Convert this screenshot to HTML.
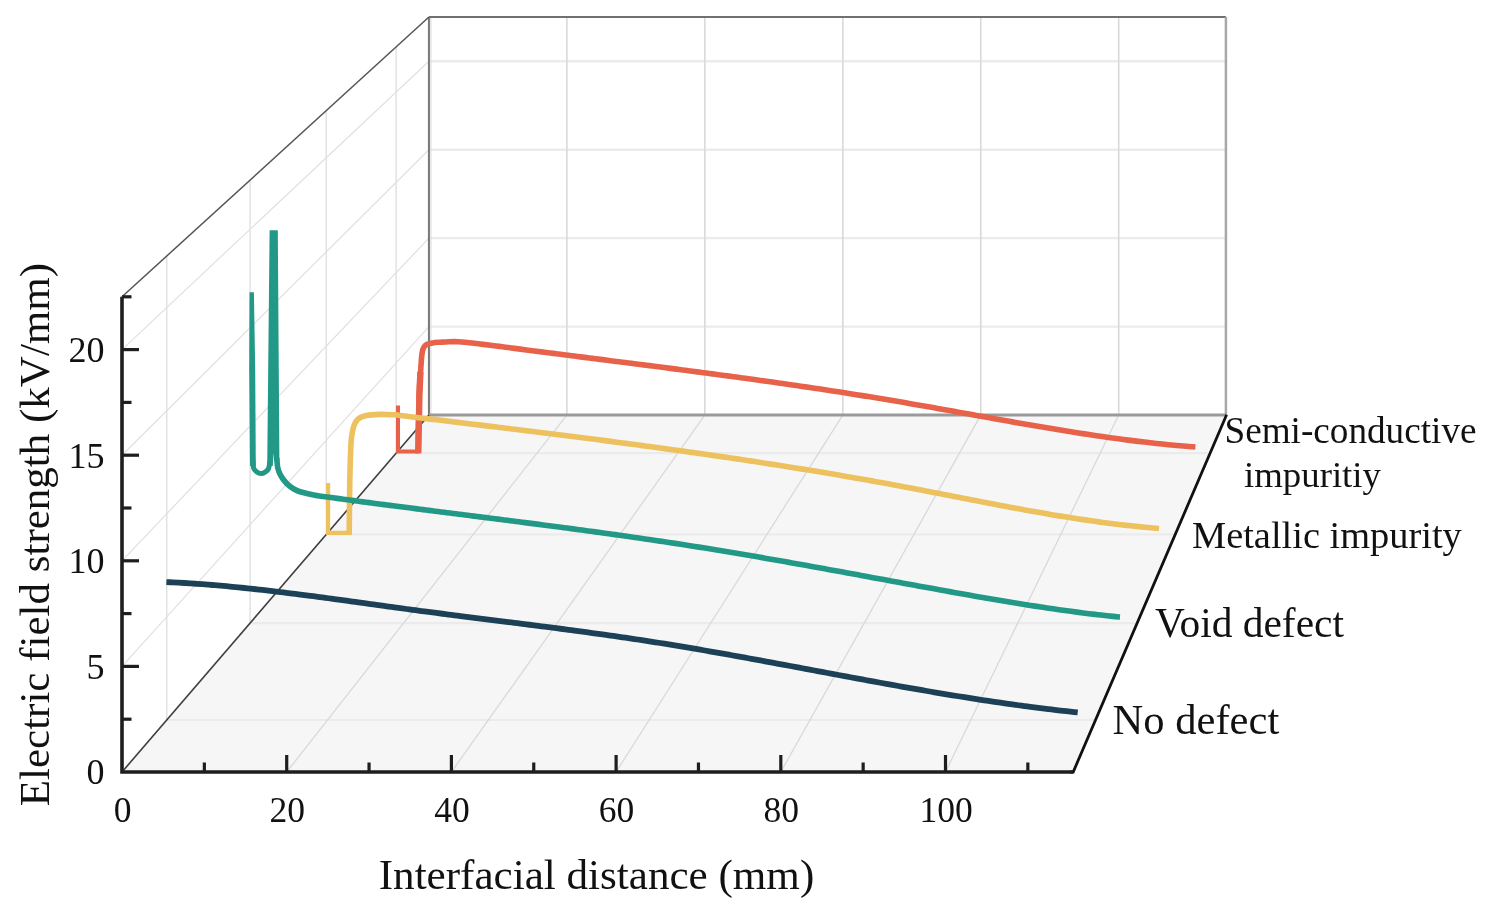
<!DOCTYPE html>
<html><head><meta charset="utf-8"><title>Electric field strength vs interfacial distance</title>
<style>html,body{margin:0;padding:0;background:#fff;}svg{display:block;}</style></head>
<body>
<svg width="1488" height="915" viewBox="0 0 1488 915">
<polygon points="122,772 1073.5,772 1225.91,415.06 428.93,415.06" fill="#f6f6f6"/>
<line x1="428.93" y1="326.6" x2="1225.91" y2="326.6" stroke="#ebebeb" stroke-width="2.4"/>
<line x1="428.93" y1="238.15" x2="1225.91" y2="238.15" stroke="#ebebeb" stroke-width="2.4"/>
<line x1="428.93" y1="149.7" x2="1225.91" y2="149.7" stroke="#ebebeb" stroke-width="2.4"/>
<line x1="428.93" y1="61.25" x2="1225.91" y2="61.25" stroke="#ebebeb" stroke-width="2.4"/>
<line x1="566.88" y1="415.06" x2="566.88" y2="17.03" stroke="#d9d9d9" stroke-width="1.6"/>
<line x1="704.83" y1="415.06" x2="704.83" y2="17.03" stroke="#d9d9d9" stroke-width="1.6"/>
<line x1="842.79" y1="415.06" x2="842.79" y2="17.03" stroke="#d9d9d9" stroke-width="1.6"/>
<line x1="980.74" y1="415.06" x2="980.74" y2="17.03" stroke="#d9d9d9" stroke-width="1.6"/>
<line x1="1118.69" y1="415.06" x2="1118.69" y2="17.03" stroke="#d9d9d9" stroke-width="1.6"/>
<line x1="166.72" y1="719.99" x2="166.72" y2="256.04" stroke="#e2e2e2" stroke-width="1.5"/>
<line x1="250.1" y1="623.03" x2="250.1" y2="180.03" stroke="#e2e2e2" stroke-width="1.5"/>
<line x1="326.27" y1="534.44" x2="326.27" y2="110.6" stroke="#e2e2e2" stroke-width="1.5"/>
<line x1="396.13" y1="453.2" x2="396.13" y2="46.93" stroke="#e2e2e2" stroke-width="1.5"/>
<line x1="122" y1="666.4" x2="428.93" y2="326.6" stroke="#e0e0e0" stroke-width="1.2"/>
<line x1="122" y1="560.8" x2="428.93" y2="238.15" stroke="#e0e0e0" stroke-width="1.2"/>
<line x1="122" y1="455.2" x2="428.93" y2="149.7" stroke="#e0e0e0" stroke-width="1.2"/>
<line x1="122" y1="349.6" x2="428.93" y2="61.25" stroke="#e0e0e0" stroke-width="1.2"/>
<line x1="166.72" y1="719.99" x2="1095.71" y2="719.99" stroke="#ebebeb" stroke-width="2.2"/>
<line x1="250.1" y1="623.03" x2="1137.11" y2="623.03" stroke="#ebebeb" stroke-width="2.2"/>
<line x1="326.27" y1="534.44" x2="1174.93" y2="534.44" stroke="#ebebeb" stroke-width="2.2"/>
<line x1="396.13" y1="453.2" x2="1209.62" y2="453.2" stroke="#ebebeb" stroke-width="2.2"/>
<line x1="286.7" y1="772" x2="566.88" y2="415.06" stroke="#d9d9d9" stroke-width="1.3"/>
<line x1="451.4" y1="772" x2="704.83" y2="415.06" stroke="#d9d9d9" stroke-width="1.3"/>
<line x1="616.1" y1="772" x2="842.79" y2="415.06" stroke="#d9d9d9" stroke-width="1.3"/>
<line x1="780.8" y1="772" x2="980.74" y2="415.06" stroke="#d9d9d9" stroke-width="1.3"/>
<line x1="945.5" y1="772" x2="1118.69" y2="415.06" stroke="#d9d9d9" stroke-width="1.3"/>
<line x1="428.93" y1="17.03" x2="1225.91" y2="17.03" stroke="#707070" stroke-width="2"/>
<line x1="428.93" y1="415.06" x2="428.93" y2="17.03" stroke="#777" stroke-width="2"/>
<line x1="430.9" y1="18" x2="430.9" y2="414" stroke="#dadada" stroke-width="1.1"/>
<line x1="1225.91" y1="415.06" x2="1225.91" y2="17.03" stroke="#a8a8a8" stroke-width="2.5"/>
<line x1="428.93" y1="415.06" x2="1225.91" y2="415.06" stroke="#9a9a9a" stroke-width="3"/>
<line x1="122" y1="296.8" x2="428.93" y2="17.03" stroke="#555" stroke-width="1.5"/>
<line x1="122" y1="772" x2="428.93" y2="415.06" stroke="#3e3e3e" stroke-width="1.6"/>
<path d="M398,405.5 L398,451.4 L418.5,451.4" fill="none" stroke="#e8624a" stroke-width="4.0"/>
<path d="M418.1,453.5 C418.18,447.92 418.35,431.42 418.6,420 C418.85,408.58 419.25,393.33 419.6,385 C419.95,376.67 420.37,374.67 420.7,370 C421.03,365.33 421.3,360.17 421.6,357 C421.9,353.83 422.1,352.67 422.5,351 C422.9,349.33 423.25,348.12 424,347 C424.75,345.88 425.58,344.98 427,344.3 C428.42,343.62 430.23,343.25 432.5,342.9 C434.77,342.55 437.85,342.4 440.6,342.2 C443.35,342 446.1,341.78 449,341.7 C451.9,341.62 454.67,341.53 458,341.7 C461.33,341.87 465.33,342.32 469,342.7 C472.67,343.08 476.43,343.58 480,344 C483.57,344.42 487.67,344.87 490.4,345.21 C493.13,345.54 494.4,345.74 496.4,346 C498.4,346.26 500.4,346.53 502.4,346.79 C504.4,347.05 506.4,347.32 508.4,347.58 C510.4,347.84 512.4,348.1 514.4,348.36 C516.4,348.62 518.4,348.88 520.4,349.14 C522.4,349.4 524.4,349.66 526.4,349.92 C528.4,350.18 530.4,350.44 532.4,350.7 C534.4,350.96 536.4,351.22 538.4,351.47 C540.4,351.73 542.4,351.99 544.4,352.25 C546.4,352.5 548.4,352.76 550.4,353.02 C552.4,353.27 554.4,353.53 556.4,353.78 C558.4,354.04 560.4,354.3 562.4,354.55 C564.4,354.81 566.4,355.06 568.4,355.32 C570.4,355.57 572.4,355.83 574.4,356.08 C576.4,356.34 578.4,356.59 580.4,356.85 C582.4,357.1 584.4,357.35 586.4,357.61 C588.4,357.86 590.4,358.12 592.4,358.37 C594.4,358.63 596.4,358.88 598.4,359.14 C600.4,359.39 602.4,359.64 604.4,359.9 C606.4,360.15 608.4,360.41 610.4,360.66 C612.4,360.92 614.4,361.17 616.4,361.42 C618.4,361.68 620.4,361.93 622.4,362.19 C624.4,362.44 626.4,362.7 628.4,362.95 C630.4,363.21 632.4,363.46 634.4,363.72 C636.4,363.97 638.4,364.23 640.4,364.49 C642.4,364.74 644.4,365 646.4,365.25 C648.4,365.51 650.4,365.77 652.4,366.03 C654.4,366.28 656.4,366.54 658.4,366.8 C660.4,367.05 662.4,367.31 664.4,367.57 C666.4,367.83 668.4,368.09 670.4,368.35 C672.4,368.61 674.4,368.87 676.4,369.13 C678.4,369.39 680.4,369.65 682.4,369.91 C684.4,370.17 686.4,370.43 688.4,370.69 C690.4,370.96 692.4,371.22 694.4,371.48 C696.4,371.74 698.4,372.01 700.4,372.27 C702.4,372.54 704.4,372.8 706.4,373.07 C708.4,373.33 710.4,373.6 712.4,373.86 C714.4,374.13 716.4,374.4 718.4,374.67 C720.4,374.93 722.4,375.2 724.4,375.47 C726.4,375.74 728.4,376.01 730.4,376.28 C732.4,376.55 734.4,376.83 736.4,377.1 C738.4,377.37 740.4,377.64 742.4,377.92 C744.4,378.19 746.4,378.47 748.4,378.74 C750.4,379.02 752.4,379.3 754.4,379.57 C756.4,379.85 758.4,380.13 760.4,380.41 C762.4,380.69 764.4,380.97 766.4,381.25 C768.4,381.53 770.4,381.81 772.4,382.1 C774.4,382.38 776.4,382.66 778.4,382.95 C780.4,383.23 782.4,383.52 784.4,383.81 C786.4,384.1 788.4,384.38 790.4,384.67 C792.4,384.96 794.4,385.25 796.4,385.55 C798.4,385.84 800.4,386.13 802.4,386.42 C804.4,386.72 806.4,387.01 808.4,387.31 C810.4,387.61 812.4,387.9 814.4,388.2 C816.4,388.5 818.4,388.8 820.4,389.1 C822.4,389.4 824.4,389.71 826.4,390.01 C828.4,390.32 830.4,390.62 832.4,390.93 C834.4,391.23 836.4,391.54 838.4,391.85 C840.4,392.16 842.4,392.47 844.4,392.78 C846.4,393.1 848.4,393.41 850.4,393.72 C852.4,394.04 854.4,394.36 856.4,394.67 C858.4,394.99 860.4,395.31 862.4,395.63 C864.4,395.95 866.4,396.28 868.4,396.6 C870.4,396.92 872.4,397.25 874.4,397.58 C876.4,397.9 878.4,398.23 880.4,398.56 C882.4,398.89 884.4,399.22 886.4,399.56 C888.4,399.89 890.4,400.23 892.4,400.56 C894.4,400.9 896.4,401.24 898.4,401.58 C900.4,401.92 902.4,402.26 904.4,402.61 C906.4,402.95 908.4,403.29 910.4,403.64 C912.4,403.99 914.4,404.34 916.4,404.69 C918.4,405.04 920.4,405.39 922.4,405.74 C924.4,406.09 926.4,406.44 928.4,406.8 C930.4,407.15 932.4,407.51 934.4,407.86 C936.4,408.22 938.4,408.58 940.4,408.94 C942.4,409.29 944.4,409.65 946.4,410.01 C948.4,410.37 950.4,410.73 952.4,411.09 C954.4,411.45 956.4,411.81 958.4,412.17 C960.4,412.53 962.4,412.89 964.4,413.25 C966.4,413.62 968.4,413.98 970.4,414.34 C972.4,414.7 974.4,415.06 976.4,415.42 C978.4,415.78 980.4,416.14 982.4,416.5 C984.4,416.86 986.4,417.23 988.4,417.59 C990.4,417.94 992.4,418.3 994.4,418.66 C996.4,419.02 998.4,419.38 1000.4,419.74 C1002.4,420.09 1004.4,420.45 1006.4,420.81 C1008.4,421.16 1010.4,421.52 1012.4,421.87 C1014.4,422.22 1016.4,422.58 1018.4,422.93 C1020.4,423.28 1022.4,423.63 1024.4,423.98 C1026.4,424.33 1028.4,424.68 1030.4,425.02 C1032.4,425.37 1034.4,425.71 1036.4,426.06 C1038.4,426.4 1040.4,426.74 1042.4,427.08 C1044.4,427.42 1046.4,427.76 1048.4,428.09 C1050.4,428.43 1052.4,428.76 1054.4,429.09 C1056.4,429.42 1058.4,429.75 1060.4,430.08 C1062.4,430.41 1064.4,430.73 1066.4,431.05 C1068.4,431.38 1070.4,431.7 1072.4,432.01 C1074.4,432.33 1076.4,432.65 1078.4,432.96 C1080.4,433.27 1082.4,433.58 1084.4,433.89 C1086.4,434.19 1088.4,434.5 1090.4,434.8 C1092.4,435.1 1094.4,435.4 1096.4,435.69 C1098.4,435.99 1100.4,436.28 1102.4,436.57 C1104.4,436.85 1106.4,437.14 1108.4,437.42 C1110.4,437.7 1112.4,437.98 1114.4,438.25 C1116.4,438.53 1118.4,438.8 1120.4,439.07 C1122.4,439.33 1124.4,439.6 1126.4,439.86 C1128.4,440.12 1130.4,440.37 1132.4,440.62 C1134.4,440.87 1136.4,441.12 1138.4,441.36 C1140.4,441.61 1142.4,441.85 1144.4,442.08 C1146.4,442.32 1148.4,442.55 1150.4,442.77 C1152.4,443 1154.4,443.22 1156.4,443.44 C1158.4,443.65 1160.4,443.86 1162.4,444.07 C1164.4,444.28 1166.4,444.48 1168.4,444.68 C1170.4,444.88 1172.4,445.07 1174.4,445.26 C1176.4,445.44 1178.4,445.63 1180.4,445.8 C1182.4,445.98 1184.4,446.15 1186.4,446.32 C1188.4,446.48 1190.9,446.68 1192.4,446.8 C1193.9,446.92 1194.9,446.99 1195.4,447.03" fill="none" stroke="#e8624a" stroke-width="5.6" stroke-linejoin="round"/>
<path d="M418.3,453 L419.4,395 L420.4,372" fill="none" stroke="#e8624a" stroke-width="6.4" stroke-linejoin="round"/>
<path d="M328.1,483 L328.1,532.9 L349.5,532.9" fill="none" stroke="#ecc15e" stroke-width="4.2"/>
<path d="M349.2,535 C349.3,525.83 349.52,495 349.8,480 C350.08,465 350.57,452.4 350.9,445 C351.23,437.6 351.38,438.52 351.8,435.6 C352.22,432.68 352.78,429.72 353.4,427.5 C354.02,425.28 354.53,423.87 355.5,422.3 C356.47,420.73 357.42,419.23 359.2,418.1 C360.98,416.97 362.83,416.12 366.2,415.5 C369.57,414.88 374.65,414.52 379.4,414.4 C384.15,414.28 391.15,414.58 394.7,414.76 C398.25,414.94 398.7,415.24 400.7,415.48 C402.7,415.73 404.7,415.97 406.7,416.21 C408.7,416.45 410.7,416.69 412.7,416.93 C414.7,417.17 416.7,417.41 418.7,417.66 C420.7,417.9 422.7,418.14 424.7,418.38 C426.7,418.62 428.7,418.86 430.7,419.1 C432.7,419.34 434.7,419.58 436.7,419.82 C438.7,420.07 440.7,420.31 442.7,420.55 C444.7,420.79 446.7,421.03 448.7,421.27 C450.7,421.51 452.7,421.75 454.7,422 C456.7,422.24 458.7,422.48 460.7,422.72 C462.7,422.96 464.7,423.2 466.7,423.45 C468.7,423.69 470.7,423.93 472.7,424.17 C474.7,424.41 476.7,424.66 478.7,424.9 C480.7,425.14 482.7,425.38 484.7,425.63 C486.7,425.87 488.7,426.11 490.7,426.36 C492.7,426.6 494.7,426.84 496.7,427.09 C498.7,427.33 500.7,427.58 502.7,427.82 C504.7,428.06 506.7,428.31 508.7,428.55 C510.7,428.8 512.7,429.04 514.7,429.29 C516.7,429.53 518.7,429.78 520.7,430.03 C522.7,430.27 524.7,430.52 526.7,430.77 C528.7,431.01 530.7,431.26 532.7,431.51 C534.7,431.75 536.7,432 538.7,432.25 C540.7,432.5 542.7,432.75 544.7,433 C546.7,433.25 548.7,433.5 550.7,433.75 C552.7,434 554.7,434.25 556.7,434.5 C558.7,434.75 560.7,435 562.7,435.25 C564.7,435.5 566.7,435.75 568.7,436.01 C570.7,436.26 572.7,436.51 574.7,436.77 C576.7,437.02 578.7,437.27 580.7,437.53 C582.7,437.78 584.7,438.04 586.7,438.3 C588.7,438.55 590.7,438.81 592.7,439.07 C594.7,439.32 596.7,439.58 598.7,439.84 C600.7,440.1 602.7,440.36 604.7,440.61 C606.7,440.87 608.7,441.13 610.7,441.4 C612.7,441.66 614.7,441.92 616.7,442.18 C618.7,442.44 620.7,442.7 622.7,442.97 C624.7,443.23 626.7,443.5 628.7,443.76 C630.7,444.03 632.7,444.29 634.7,444.56 C636.7,444.82 638.7,445.09 640.7,445.36 C642.7,445.63 644.7,445.9 646.7,446.16 C648.7,446.43 650.7,446.7 652.7,446.97 C654.7,447.25 656.7,447.52 658.7,447.79 C660.7,448.06 662.7,448.34 664.7,448.61 C666.7,448.88 668.7,449.16 670.7,449.44 C672.7,449.71 674.7,449.99 676.7,450.27 C678.7,450.54 680.7,450.82 682.7,451.1 C684.7,451.38 686.7,451.66 688.7,451.94 C690.7,452.22 692.7,452.51 694.7,452.79 C696.7,453.07 698.7,453.36 700.7,453.64 C702.7,453.93 704.7,454.21 706.7,454.5 C708.7,454.79 710.7,455.08 712.7,455.36 C714.7,455.65 716.7,455.94 718.7,456.23 C720.7,456.53 722.7,456.82 724.7,457.11 C726.7,457.4 728.7,457.7 730.7,457.99 C732.7,458.29 734.7,458.59 736.7,458.88 C738.7,459.18 740.7,459.48 742.7,459.78 C744.7,460.08 746.7,460.38 748.7,460.68 C750.7,460.98 752.7,461.29 754.7,461.59 C756.7,461.9 758.7,462.2 760.7,462.51 C762.7,462.81 764.7,463.12 766.7,463.43 C768.7,463.74 770.7,464.05 772.7,464.36 C774.7,464.67 776.7,464.99 778.7,465.3 C780.7,465.61 782.7,465.93 784.7,466.25 C786.7,466.56 788.7,466.88 790.7,467.2 C792.7,467.52 794.7,467.84 796.7,468.16 C798.7,468.48 800.7,468.8 802.7,469.13 C804.7,469.45 806.7,469.78 808.7,470.11 C810.7,470.43 812.7,470.76 814.7,471.09 C816.7,471.42 818.7,471.75 820.7,472.08 C822.7,472.42 824.7,472.75 826.7,473.09 C828.7,473.42 830.7,473.76 832.7,474.1 C834.7,474.43 836.7,474.77 838.7,475.11 C840.7,475.46 842.7,475.8 844.7,476.14 C846.7,476.49 848.7,476.83 850.7,477.18 C852.7,477.53 854.7,477.87 856.7,478.22 C858.7,478.57 860.7,478.93 862.7,479.28 C864.7,479.63 866.7,479.99 868.7,480.34 C870.7,480.7 872.7,481.06 874.7,481.42 C876.7,481.78 878.7,482.14 880.7,482.5 C882.7,482.86 884.7,483.23 886.7,483.59 C888.7,483.96 890.7,484.33 892.7,484.69 C894.7,485.06 896.7,485.43 898.7,485.81 C900.7,486.18 902.7,486.55 904.7,486.93 C906.7,487.3 908.7,487.68 910.7,488.06 C912.7,488.44 914.7,488.82 916.7,489.2 C918.7,489.58 920.7,489.97 922.7,490.35 C924.7,490.74 926.7,491.12 928.7,491.51 C930.7,491.89 932.7,492.28 934.7,492.67 C936.7,493.06 938.7,493.45 940.7,493.83 C942.7,494.22 944.7,494.61 946.7,495 C948.7,495.39 950.7,495.78 952.7,496.17 C954.7,496.56 956.7,496.95 958.7,497.34 C960.7,497.73 962.7,498.12 964.7,498.51 C966.7,498.9 968.7,499.29 970.7,499.68 C972.7,500.07 974.7,500.46 976.7,500.85 C978.7,501.23 980.7,501.62 982.7,502.01 C984.7,502.39 986.7,502.78 988.7,503.16 C990.7,503.54 992.7,503.93 994.7,504.31 C996.7,504.69 998.7,505.07 1000.7,505.45 C1002.7,505.83 1004.7,506.2 1006.7,506.58 C1008.7,506.95 1010.7,507.33 1012.7,507.7 C1014.7,508.07 1016.7,508.44 1018.7,508.81 C1020.7,509.17 1022.7,509.54 1024.7,509.9 C1026.7,510.26 1028.7,510.62 1030.7,510.98 C1032.7,511.34 1034.7,511.7 1036.7,512.05 C1038.7,512.4 1040.7,512.75 1042.7,513.1 C1044.7,513.44 1046.7,513.79 1048.7,514.13 C1050.7,514.47 1052.7,514.81 1054.7,515.14 C1056.7,515.47 1058.7,515.8 1060.7,516.13 C1062.7,516.46 1064.7,516.78 1066.7,517.1 C1068.7,517.42 1070.7,517.74 1072.7,518.05 C1074.7,518.36 1076.7,518.67 1078.7,518.97 C1080.7,519.28 1082.7,519.58 1084.7,519.87 C1086.7,520.17 1088.7,520.46 1090.7,520.74 C1092.7,521.03 1094.7,521.31 1096.7,521.59 C1098.7,521.86 1100.7,522.14 1102.7,522.4 C1104.7,522.67 1106.7,522.93 1108.7,523.19 C1110.7,523.45 1112.7,523.7 1114.7,523.94 C1116.7,524.19 1118.7,524.43 1120.7,524.67 C1122.7,524.9 1124.7,525.13 1126.7,525.35 C1128.7,525.58 1130.7,525.79 1132.7,526.01 C1134.7,526.22 1136.7,526.42 1138.7,526.62 C1140.7,526.82 1142.7,527.02 1144.7,527.2 C1146.7,527.39 1148.7,527.57 1150.7,527.74 C1152.7,527.92 1155.32,528.13 1156.7,528.25 C1158.08,528.36 1158.62,528.4 1159,528.43" fill="none" stroke="#ecc15e" stroke-width="5.6" stroke-linejoin="round"/>
<polygon points="249.5,292.3 253.9,292.3 255.2,370 255.8,466 250,466 249.2,370" fill="#229886"/>
<path d="M252.9,460 C253.02,461.33 253,466.03 253.6,468 C254.2,469.97 255.27,470.87 256.5,471.8 C257.73,472.73 259.5,473.6 261,473.6 C262.5,473.6 264.23,472.65 265.5,471.8 C266.77,470.95 267.87,470.3 268.6,468.5 C269.33,466.7 269.68,462.25 269.9,461" fill="none" stroke="#229886" stroke-width="5.0" stroke-linejoin="round"/>
<polygon points="269.6,230.3 277.8,230.3 279.4,461 274.1,461 273.4,453 272.8,466 267.2,466" fill="#229886"/>
<path d="M276.7,458 C276.88,459.67 277.22,465.25 277.8,468 C278.38,470.75 279.33,472.67 280.2,474.5 C281.07,476.33 281.95,477.55 283,479 C284.05,480.45 285.25,481.9 286.5,483.2 C287.75,484.5 289,485.68 290.5,486.8 C292,487.92 293.58,488.98 295.5,489.9 C297.42,490.82 298.75,491.4 302,492.3 C305.25,493.2 311.83,494.69 315,495.33 C318.17,495.97 319,495.89 321,496.16 C323,496.44 325,496.72 327,496.99 C329,497.27 331,497.54 333,497.81 C335,498.09 337,498.36 339,498.63 C341,498.9 343,499.17 345,499.44 C347,499.71 349,499.98 351,500.25 C353,500.52 355,500.78 357,501.05 C359,501.32 361,501.58 363,501.85 C365,502.11 367,502.38 369,502.64 C371,502.9 373,503.17 375,503.43 C377,503.69 379,503.95 381,504.22 C383,504.48 385,504.74 387,505 C389,505.26 391,505.52 393,505.78 C395,506.03 397,506.29 399,506.55 C401,506.81 403,507.07 405,507.32 C407,507.58 409,507.84 411,508.09 C413,508.35 415,508.61 417,508.86 C419,509.12 421,509.37 423,509.63 C425,509.88 427,510.14 429,510.39 C431,510.65 433,510.9 435,511.16 C437,511.41 439,511.67 441,511.92 C443,512.17 445,512.43 447,512.68 C449,512.93 451,513.19 453,513.44 C455,513.69 457,513.95 459,514.2 C461,514.45 463,514.71 465,514.96 C467,515.21 469,515.47 471,515.72 C473,515.97 475,516.23 477,516.48 C479,516.73 481,516.99 483,517.24 C485,517.49 487,517.75 489,518 C491,518.26 493,518.51 495,518.76 C497,519.02 499,519.27 501,519.53 C503,519.78 505,520.04 507,520.29 C509,520.55 511,520.8 513,521.06 C515,521.32 517,521.57 519,521.83 C521,522.09 523,522.34 525,522.6 C527,522.86 529,523.12 531,523.37 C533,523.63 535,523.89 537,524.15 C539,524.41 541,524.67 543,524.93 C545,525.19 547,525.45 549,525.72 C551,525.98 553,526.24 555,526.5 C557,526.77 559,527.03 561,527.29 C563,527.56 565,527.82 567,528.09 C569,528.35 571,528.62 573,528.89 C575,529.15 577,529.42 579,529.69 C581,529.96 583,530.23 585,530.5 C587,530.77 589,531.04 591,531.31 C593,531.59 595,531.86 597,532.13 C599,532.41 601,532.68 603,532.96 C605,533.23 607,533.51 609,533.79 C611,534.07 613,534.35 615,534.63 C617,534.91 619,535.19 621,535.47 C623,535.75 625,536.03 627,536.32 C629,536.6 631,536.89 633,537.17 C635,537.46 637,537.75 639,538.04 C641,538.33 643,538.62 645,538.91 C647,539.2 649,539.49 651,539.79 C653,540.08 655,540.38 657,540.67 C659,540.97 661,541.27 663,541.57 C665,541.87 667,542.17 669,542.47 C671,542.78 673,543.08 675,543.38 C677,543.69 679,544 681,544.31 C683,544.61 685,544.92 687,545.24 C689,545.55 691,545.86 693,546.17 C695,546.49 697,546.81 699,547.12 C701,547.44 703,547.76 705,548.08 C707,548.4 709,548.73 711,549.05 C713,549.37 715,549.7 717,550.03 C719,550.36 721,550.68 723,551.01 C725,551.34 727,551.68 729,552.01 C731,552.34 733,552.68 735,553.01 C737,553.35 739,553.69 741,554.03 C743,554.36 745,554.7 747,555.04 C749,555.39 751,555.73 753,556.07 C755,556.41 757,556.76 759,557.1 C761,557.45 763,557.8 765,558.15 C767,558.49 769,558.84 771,559.19 C773,559.54 775,559.89 777,560.24 C779,560.6 781,560.95 783,561.3 C785,561.66 787,562.01 789,562.37 C791,562.72 793,563.08 795,563.43 C797,563.79 799,564.15 801,564.51 C803,564.87 805,565.23 807,565.59 C809,565.95 811,566.31 813,566.67 C815,567.03 817,567.39 819,567.75 C821,568.11 823,568.48 825,568.84 C827,569.2 829,569.57 831,569.93 C833,570.3 835,570.66 837,571.03 C839,571.39 841,571.76 843,572.12 C845,572.49 847,572.85 849,573.22 C851,573.59 853,573.95 855,574.32 C857,574.69 859,575.05 861,575.42 C863,575.79 865,576.16 867,576.52 C869,576.89 871,577.26 873,577.63 C875,578 877,578.36 879,578.73 C881,579.1 883,579.47 885,579.83 C887,580.2 889,580.57 891,580.94 C893,581.3 895,581.67 897,582.04 C899,582.41 901,582.77 903,583.14 C905,583.51 907,583.87 909,584.24 C911,584.61 913,584.97 915,585.34 C917,585.7 919,586.07 921,586.43 C923,586.8 925,587.16 927,587.53 C929,587.89 931,588.25 933,588.62 C935,588.98 937,589.34 939,589.71 C941,590.07 943,590.43 945,590.79 C947,591.15 949,591.51 951,591.87 C953,592.23 955,592.59 957,592.95 C959,593.31 961,593.66 963,594.02 C965,594.38 967,594.73 969,595.08 C971,595.44 973,595.79 975,596.14 C977,596.49 979,596.84 981,597.19 C983,597.54 985,597.89 987,598.23 C989,598.58 991,598.92 993,599.27 C995,599.61 997,599.95 999,600.29 C1001,600.63 1003,600.96 1005,601.3 C1007,601.63 1009,601.96 1011,602.29 C1013,602.62 1015,602.95 1017,603.28 C1019,603.6 1021,603.92 1023,604.24 C1025,604.56 1027,604.88 1029,605.2 C1031,605.51 1033,605.82 1035,606.13 C1037,606.44 1039,606.75 1041,607.05 C1043,607.35 1045,607.66 1047,607.95 C1049,608.25 1051,608.54 1053,608.83 C1055,609.12 1057,609.41 1059,609.69 C1061,609.98 1063,610.26 1065,610.53 C1067,610.81 1069,611.08 1071,611.35 C1073,611.62 1075,611.88 1077,612.14 C1079,612.41 1081,612.66 1083,612.91 C1085,613.17 1087,613.42 1089,613.66 C1091,613.9 1093,614.14 1095,614.38 C1097,614.61 1099,614.84 1101,615.07 C1103,615.3 1105,615.52 1107,615.73 C1109,615.95 1111,616.16 1113,616.37 C1115,616.58 1117.83,616.86 1119,616.98 C1120.17,617.09 1119.83,617.06 1120,617.07" fill="none" stroke="#229886" stroke-width="5.6" stroke-linejoin="round"/>
<path d="M166.4,582.08 C167.4,582.12 170.4,582.26 172.4,582.36 C174.4,582.45 176.4,582.56 178.4,582.67 C180.4,582.78 182.4,582.89 184.4,583.01 C186.4,583.13 188.4,583.25 190.4,583.38 C192.4,583.51 194.4,583.65 196.4,583.79 C198.4,583.93 200.4,584.07 202.4,584.22 C204.4,584.37 206.4,584.53 208.4,584.69 C210.4,584.84 212.4,585.01 214.4,585.17 C216.4,585.34 218.4,585.51 220.4,585.69 C222.4,585.87 224.4,586.05 226.4,586.23 C228.4,586.41 230.4,586.6 232.4,586.79 C234.4,586.99 236.4,587.18 238.4,587.38 C240.4,587.58 242.4,587.78 244.4,587.99 C246.4,588.2 248.4,588.41 250.4,588.62 C252.4,588.83 254.4,589.05 256.4,589.27 C258.4,589.49 260.4,589.71 262.4,589.94 C264.4,590.17 266.4,590.39 268.4,590.63 C270.4,590.86 272.4,591.09 274.4,591.33 C276.4,591.57 278.4,591.81 280.4,592.05 C282.4,592.29 284.4,592.54 286.4,592.78 C288.4,593.03 290.4,593.28 292.4,593.53 C294.4,593.78 296.4,594.04 298.4,594.29 C300.4,594.55 302.4,594.81 304.4,595.07 C306.4,595.32 308.4,595.59 310.4,595.85 C312.4,596.11 314.4,596.38 316.4,596.64 C318.4,596.91 320.4,597.17 322.4,597.44 C324.4,597.71 326.4,597.98 328.4,598.25 C330.4,598.52 332.4,598.8 334.4,599.07 C336.4,599.34 338.4,599.61 340.4,599.89 C342.4,600.16 344.4,600.44 346.4,600.72 C348.4,600.99 350.4,601.27 352.4,601.54 C354.4,601.82 356.4,602.1 358.4,602.38 C360.4,602.65 362.4,602.93 364.4,603.21 C366.4,603.49 368.4,603.77 370.4,604.04 C372.4,604.32 374.4,604.6 376.4,604.88 C378.4,605.15 380.4,605.43 382.4,605.71 C384.4,605.99 386.4,606.26 388.4,606.54 C390.4,606.81 392.4,607.09 394.4,607.36 C396.4,607.64 398.4,607.91 400.4,608.18 C402.4,608.46 404.4,608.73 406.4,609 C408.4,609.27 410.4,609.54 412.4,609.81 C414.4,610.08 416.4,610.34 418.4,610.61 C420.4,610.87 422.4,611.14 424.4,611.4 C426.4,611.67 428.4,611.93 430.4,612.19 C432.4,612.45 434.4,612.71 436.4,612.97 C438.4,613.23 440.4,613.49 442.4,613.75 C444.4,614.01 446.4,614.26 448.4,614.52 C450.4,614.78 452.4,615.03 454.4,615.29 C456.4,615.54 458.4,615.8 460.4,616.05 C462.4,616.31 464.4,616.56 466.4,616.81 C468.4,617.07 470.4,617.32 472.4,617.57 C474.4,617.82 476.4,618.07 478.4,618.33 C480.4,618.58 482.4,618.83 484.4,619.08 C486.4,619.33 488.4,619.58 490.4,619.84 C492.4,620.09 494.4,620.34 496.4,620.59 C498.4,620.84 500.4,621.09 502.4,621.34 C504.4,621.59 506.4,621.84 508.4,622.1 C510.4,622.35 512.4,622.6 514.4,622.85 C516.4,623.1 518.4,623.36 520.4,623.61 C522.4,623.86 524.4,624.11 526.4,624.37 C528.4,624.62 530.4,624.88 532.4,625.13 C534.4,625.38 536.4,625.64 538.4,625.9 C540.4,626.15 542.4,626.41 544.4,626.66 C546.4,626.92 548.4,627.18 550.4,627.44 C552.4,627.7 554.4,627.96 556.4,628.22 C558.4,628.48 560.4,628.74 562.4,629 C564.4,629.26 566.4,629.53 568.4,629.79 C570.4,630.06 572.4,630.32 574.4,630.59 C576.4,630.86 578.4,631.13 580.4,631.39 C582.4,631.66 584.4,631.93 586.4,632.21 C588.4,632.48 590.4,632.75 592.4,633.03 C594.4,633.3 596.4,633.58 598.4,633.86 C600.4,634.13 602.4,634.41 604.4,634.69 C606.4,634.98 608.4,635.26 610.4,635.54 C612.4,635.83 614.4,636.11 616.4,636.4 C618.4,636.69 620.4,636.98 622.4,637.27 C624.4,637.56 626.4,637.86 628.4,638.15 C630.4,638.45 632.4,638.75 634.4,639.05 C636.4,639.35 638.4,639.65 640.4,639.95 C642.4,640.26 644.4,640.56 646.4,640.87 C648.4,641.18 650.4,641.49 652.4,641.8 C654.4,642.12 656.4,642.43 658.4,642.75 C660.4,643.07 662.4,643.39 664.4,643.71 C666.4,644.03 668.4,644.36 670.4,644.68 C672.4,645.01 674.4,645.34 676.4,645.67 C678.4,646 680.4,646.33 682.4,646.67 C684.4,647 686.4,647.34 688.4,647.67 C690.4,648.01 692.4,648.35 694.4,648.69 C696.4,649.03 698.4,649.38 700.4,649.72 C702.4,650.07 704.4,650.41 706.4,650.76 C708.4,651.11 710.4,651.46 712.4,651.81 C714.4,652.16 716.4,652.51 718.4,652.86 C720.4,653.22 722.4,653.57 724.4,653.93 C726.4,654.28 728.4,654.64 730.4,655 C732.4,655.36 734.4,655.72 736.4,656.08 C738.4,656.44 740.4,656.8 742.4,657.16 C744.4,657.53 746.4,657.89 748.4,658.26 C750.4,658.62 752.4,658.99 754.4,659.35 C756.4,659.72 758.4,660.09 760.4,660.45 C762.4,660.82 764.4,661.19 766.4,661.56 C768.4,661.93 770.4,662.3 772.4,662.67 C774.4,663.04 776.4,663.41 778.4,663.79 C780.4,664.16 782.4,664.53 784.4,664.9 C786.4,665.28 788.4,665.65 790.4,666.02 C792.4,666.4 794.4,666.77 796.4,667.14 C798.4,667.52 800.4,667.89 802.4,668.27 C804.4,668.64 806.4,669.02 808.4,669.39 C810.4,669.77 812.4,670.14 814.4,670.51 C816.4,670.89 818.4,671.26 820.4,671.64 C822.4,672.01 824.4,672.39 826.4,672.76 C828.4,673.14 830.4,673.51 832.4,673.88 C834.4,674.26 836.4,674.63 838.4,675 C840.4,675.38 842.4,675.75 844.4,676.12 C846.4,676.49 848.4,676.87 850.4,677.24 C852.4,677.61 854.4,677.98 856.4,678.35 C858.4,678.72 860.4,679.09 862.4,679.46 C864.4,679.83 866.4,680.19 868.4,680.56 C870.4,680.93 872.4,681.29 874.4,681.66 C876.4,682.03 878.4,682.39 880.4,682.75 C882.4,683.12 884.4,683.48 886.4,683.84 C888.4,684.2 890.4,684.56 892.4,684.92 C894.4,685.28 896.4,685.64 898.4,686 C900.4,686.35 902.4,686.71 904.4,687.06 C906.4,687.42 908.4,687.77 910.4,688.12 C912.4,688.48 914.4,688.83 916.4,689.18 C918.4,689.52 920.4,689.87 922.4,690.22 C924.4,690.56 926.4,690.91 928.4,691.25 C930.4,691.59 932.4,691.93 934.4,692.27 C936.4,692.61 938.4,692.95 940.4,693.28 C942.4,693.62 944.4,693.95 946.4,694.28 C948.4,694.62 950.4,694.95 952.4,695.27 C954.4,695.6 956.4,695.93 958.4,696.25 C960.4,696.58 962.4,696.9 964.4,697.22 C966.4,697.54 968.4,697.85 970.4,698.17 C972.4,698.48 974.4,698.8 976.4,699.11 C978.4,699.42 980.4,699.72 982.4,700.03 C984.4,700.34 986.4,700.64 988.4,700.94 C990.4,701.24 992.4,701.54 994.4,701.83 C996.4,702.13 998.4,702.42 1000.4,702.71 C1002.4,703 1004.4,703.29 1006.4,703.57 C1008.4,703.86 1010.4,704.14 1012.4,704.42 C1014.4,704.7 1016.4,704.97 1018.4,705.25 C1020.4,705.52 1022.4,705.79 1024.4,706.06 C1026.4,706.32 1028.4,706.59 1030.4,706.85 C1032.4,707.11 1034.4,707.37 1036.4,707.62 C1038.4,707.88 1040.4,708.13 1042.4,708.38 C1044.4,708.63 1046.4,708.87 1048.4,709.11 C1050.4,709.35 1052.4,709.59 1054.4,709.83 C1056.4,710.06 1058.4,710.29 1060.4,710.52 C1062.4,710.75 1064.4,710.97 1066.4,711.19 C1068.4,711.41 1070.52,711.64 1072.4,711.84 C1074.28,712.04 1076.82,712.3 1077.7,712.4" fill="none" stroke="#1c4157" stroke-width="5.8" stroke-linejoin="round"/>
<path d="M1070,772 L1073.2,772 L1226.6,414.8" fill="none" stroke="#111" stroke-width="2.8" stroke-linejoin="miter"/>
<path d="M122,296.8 L122,772 L1073.2,772" fill="none" stroke="#1e1e1e" stroke-width="3.6" stroke-linejoin="miter"/>
<line x1="122" y1="719.2" x2="131.5" y2="719.2" stroke="#1e1e1e" stroke-width="3.2"/>
<line x1="122" y1="666.4" x2="139" y2="666.4" stroke="#1e1e1e" stroke-width="3.2"/>
<line x1="122" y1="613.6" x2="131.5" y2="613.6" stroke="#1e1e1e" stroke-width="3.2"/>
<line x1="122" y1="560.8" x2="139" y2="560.8" stroke="#1e1e1e" stroke-width="3.2"/>
<line x1="122" y1="508" x2="131.5" y2="508" stroke="#1e1e1e" stroke-width="3.2"/>
<line x1="122" y1="455.2" x2="139" y2="455.2" stroke="#1e1e1e" stroke-width="3.2"/>
<line x1="122" y1="402.4" x2="131.5" y2="402.4" stroke="#1e1e1e" stroke-width="3.2"/>
<line x1="122" y1="349.6" x2="139" y2="349.6" stroke="#1e1e1e" stroke-width="3.2"/>
<line x1="122" y1="296.8" x2="131.5" y2="296.8" stroke="#1e1e1e" stroke-width="3.2"/>
<line x1="204.35" y1="772" x2="204.35" y2="762.5" stroke="#1e1e1e" stroke-width="3.2"/>
<line x1="286.7" y1="772" x2="286.7" y2="755" stroke="#1e1e1e" stroke-width="3.2"/>
<line x1="369.05" y1="772" x2="369.05" y2="762.5" stroke="#1e1e1e" stroke-width="3.2"/>
<line x1="451.4" y1="772" x2="451.4" y2="755" stroke="#1e1e1e" stroke-width="3.2"/>
<line x1="533.75" y1="772" x2="533.75" y2="762.5" stroke="#1e1e1e" stroke-width="3.2"/>
<line x1="616.1" y1="772" x2="616.1" y2="755" stroke="#1e1e1e" stroke-width="3.2"/>
<line x1="698.45" y1="772" x2="698.45" y2="762.5" stroke="#1e1e1e" stroke-width="3.2"/>
<line x1="780.8" y1="772" x2="780.8" y2="755" stroke="#1e1e1e" stroke-width="3.2"/>
<line x1="863.15" y1="772" x2="863.15" y2="762.5" stroke="#1e1e1e" stroke-width="3.2"/>
<line x1="945.5" y1="772" x2="945.5" y2="755" stroke="#1e1e1e" stroke-width="3.2"/>
<line x1="1027.85" y1="772" x2="1027.85" y2="762.5" stroke="#1e1e1e" stroke-width="3.2"/>
<text x="104.6" y="784.3" font-family="Liberation Serif, serif" fill="#111" font-size="36" text-anchor="end">0</text>
<text x="104.6" y="678.7" font-family="Liberation Serif, serif" fill="#111" font-size="36" text-anchor="end">5</text>
<text x="104.6" y="573.1" font-family="Liberation Serif, serif" fill="#111" font-size="36" text-anchor="end">10</text>
<text x="104.6" y="467.5" font-family="Liberation Serif, serif" fill="#111" font-size="36" text-anchor="end">15</text>
<text x="104.6" y="361.9" font-family="Liberation Serif, serif" fill="#111" font-size="36" text-anchor="end">20</text>
<text x="122.5" y="822.4" font-family="Liberation Serif, serif" fill="#111" font-size="35.5" text-anchor="middle">0</text>
<text x="287.2" y="822.4" font-family="Liberation Serif, serif" fill="#111" font-size="35.5" text-anchor="middle">20</text>
<text x="451.9" y="822.4" font-family="Liberation Serif, serif" fill="#111" font-size="35.5" text-anchor="middle">40</text>
<text x="616.6" y="822.4" font-family="Liberation Serif, serif" fill="#111" font-size="35.5" text-anchor="middle">60</text>
<text x="781.3" y="822.4" font-family="Liberation Serif, serif" fill="#111" font-size="35.5" text-anchor="middle">80</text>
<text x="946" y="822.4" font-family="Liberation Serif, serif" fill="#111" font-size="35.5" text-anchor="middle">100</text>
<text x="596.5" y="889.4" font-family="Liberation Serif, serif" fill="#111" font-size="43.1" text-anchor="middle">Interfacial distance (mm)</text>
<text transform="translate(49.3,534.6) rotate(-90)" font-family="Liberation Serif, serif" fill="#111" font-size="43" text-anchor="middle">Electric field strength (kV/mm)</text>
<text x="1224.5" y="443" font-family="Liberation Serif, serif" fill="#111" font-size="37.2">Semi-conductive</text>
<text x="1244" y="487" font-family="Liberation Serif, serif" fill="#111" font-size="36.8">impuritiy</text>
<text x="1192" y="547.5" font-family="Liberation Serif, serif" fill="#111" font-size="38.4">Metallic impurity</text>
<text x="1155" y="636.9" font-family="Liberation Serif, serif" fill="#111" font-size="41.4">Void defect</text>
<text x="1112.5" y="734.3" font-family="Liberation Serif, serif" fill="#111" font-size="42.6">No defect</text>
</svg>
</body></html>
